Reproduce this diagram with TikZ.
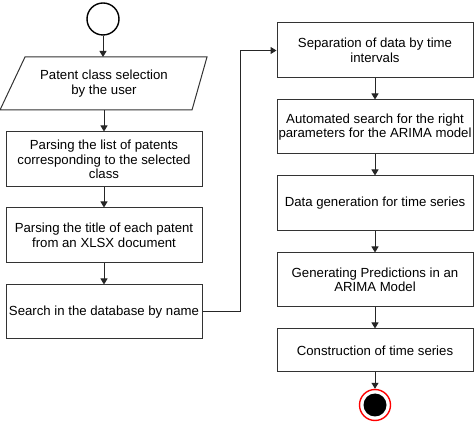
\documentclass[tikz,border=0pt]{standalone}
\usepackage{fontspec}
\setmainfont{Liberation Sans}
\usetikzlibrary{arrows.meta}
\begin{document}
\begin{tikzpicture}[x=1pt,y=-1pt,
  every node/.style={font=\fontsize{13.2}{14.5}\selectfont, align=center, inner sep=0pt},
  stepbox/.style={draw=black!80, line width=1pt, minimum width=196pt, minimum height=55pt},
  conn/.style={draw=black!85, line width=1pt, -{Triangle[length=6pt,width=7pt]}}
]
\useasboundingbox (0,0) rectangle (474,427);
% start
\node[draw=black, line width=1.4pt, circle, minimum size=32pt] (start) at (103,19) {};
% parallelogram
\node[minimum width=182pt, minimum height=53pt] (sel) at (104,83.5) {Patent class selection\\by the user};
\draw[black!80, line width=1pt] (25,57) -- (207,57) -- (192,110) -- (0,110) -- cycle;
% left column
\node[stepbox] (p1) at (104,159.5) {Parsing the list of patents\\corresponding to the selected\\class};
\node[stepbox] (p2) at (104,235.5) {Parsing the title of each patent\\from an XLSX document};
\node[stepbox, minimum height=54pt] (p3) at (104,312) {Search in the database by name};
% right column
\node[stepbox] (r1) at (375,50.5) {Separation of data by time\\intervals};
\node[stepbox, minimum height=54pt] (r2) at (375,127) {Automated search for the right\\parameters for the ARIMA model};
\node[stepbox] (r3) at (375,203.5) {Data generation for time series};
\node[stepbox, minimum height=54pt] (r4) at (375,280) {Generating Predictions in an\\ARIMA Model};
\node[stepbox, minimum height=43pt] (r5) at (375,350.5) {Construction of time series};
% end
\node[draw=red, line width=1.4pt, circle, minimum size=31pt] (stop) at (375,405) {};
\fill[black] (stop.center) circle (11.5pt);
\coordinate (bend) at (240,312);
% connectors
\draw[conn] (start.south) -- (103,57);
\draw[conn] (sel.south) -- (p1.north);
\draw[conn] (p1.south) -- (p2.north);
\draw[conn] (p2.south) -- (p3.north);
\draw[conn] (p3.east) -- (bend) |- (r1.west);
\draw[conn] (r1.south) -- (r2.north);
\draw[conn] (r2.south) -- (r3.north);
\draw[conn] (r3.south) -- (r4.north);
\draw[conn] (r4.south) -- (r5.north);
\draw[conn] (r5.south) -- (stop.north);
\end{tikzpicture}
\end{document}
